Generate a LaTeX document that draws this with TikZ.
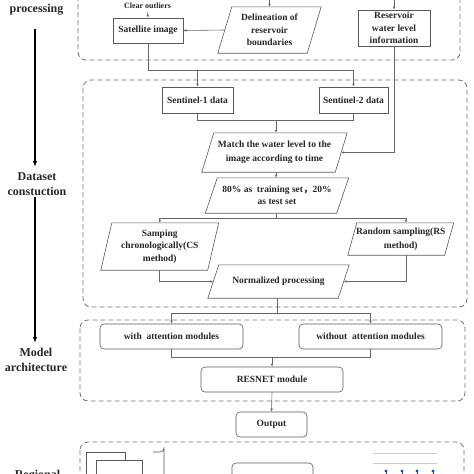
\documentclass[tikz,border=0pt]{standalone}
\usepackage{fontspec}
\setmainfont{Liberation Serif}
\newfontfamily\cjk{Noto Sans CJK SC}
\usetikzlibrary{arrows.meta,calc}
\definecolor{pinblue}{RGB}{40,70,160}
\newcommand\drawpara[2]{\draw[paraedge] ([xshift=#2pt]#1.north west) -- ([xshift=#2pt]#1.north east) -- ([xshift=-#2pt]#1.south east) -- ([xshift=-#2pt]#1.south west) -- cycle;}
\begin{document}
\begin{tikzpicture}[x=1pt,y=-1pt,
  txt/.style={font=\fontsize{9.5}{12.5}\selectfont\bfseries, text=black!85, align=center},
  box/.style={txt, draw=black!65, line width=0.6pt, inner sep=0pt},
  rbox/.style={box, rounded corners=4pt},
  para/.style={txt, inner sep=0pt},
  paraedge/.style={draw=black!65, line width=0.6pt},
  region/.style={draw=black!55, line width=0.8pt, dash pattern=on 5pt off 3pt, rounded corners=8pt},
  conn/.style={draw=black!60, line width=0.6pt},
  arr/.style={conn, -{Latex[length=3pt,width=2.6pt]}},
  side/.style={font=\fontsize{12}{14.5}\selectfont\bfseries, text=black!85, align=center},
  bigarr/.style={line width=1.3pt, draw=black, -{Latex[length=6pt,width=4.5pt]}},
  thin/.style={draw=black!65, line width=0.6pt}
]
\useasboundingbox (0,0) rectangle (474,474);
\clip (0,0) rectangle (474,474);

% regions
\draw[region] (78,-20) rectangle (460,60);
\draw[region] (83,80) rectangle (467,307);
\draw[region] (80,320) rectangle (465,401);
\draw[region] (80,442) rectangle (464,520);

% side labels
\node[side, anchor=base] (lproc) at (36.5,12) {processing};
\node[side] (ldat) at (37,184) {Dataset\\constuction};
\node[side] (lmod) at (36,360) {Model\\architecture};
\node[side, anchor=base] (lreg) at (37.5,478.5) {Regional};
\coordinate (a1s) at (35,29);
\coordinate (a1e) at (35,167);
\coordinate (a2s) at (35,197);
\coordinate (a2e) at (35,343);
\draw[bigarr] (a1s) -- (a1e);
\draw[bigarr] (a2s) -- (a2e);

% nodes
\node[txt, font=\fontsize{8}{9}\selectfont\bfseries] (clr) at (147.5,6) {Clear outliers};
\node[box, minimum width=70pt, minimum height=25pt] (sat) at (148,30.5) {Satellite image};
\node[para, minimum width=89pt, minimum height=46pt] (del) at (269.5,30) {Delineation of\\reservoir\\boundaries};
\node[box, minimum width=72pt, minimum height=36pt] (res) at (394,28) {Reservoir\\water level\\information};
\node[box, minimum width=71pt, minimum height=26pt] (s1) at (197.5,100) {Sentinel-1 data};
\node[box, minimum width=69pt, minimum height=26pt] (s2) at (353.5,100) {Sentinel-2 data};
\node[para, font=\fontsize{9.5}{14}\selectfont\bfseries, minimum width=133pt, minimum height=39pt] (match) at (274.5,152.5) {Match the water level to the\\image according to time};
\node[para, font=\fontsize{9.5}{12}\selectfont\bfseries, minimum width=131pt, minimum height=35pt] (p80) at (277,195.5) {80\% as\ \ training set{\cjk ，}20\%\\as test set};
\node[para, minimum width=106.5pt, minimum height=47pt] (samp) at (159.75,246.5) {Samping\\chronologically(CS\\method)};
\node[para, font=\fontsize{9.5}{14}\selectfont\bfseries, minimum width=96.5pt, minimum height=32pt] (rand) at (400.75,239) {Random sampling(RS\\method)};
\node[para, minimum width=130pt, minimum height=33pt] (norm) at (278.5,281.5) {Normalized processing};
\node[rbox, minimum width=143pt, minimum height=25pt] (wa) at (171.5,336.5) {with\ \ attention modules};
\node[rbox, minimum width=143pt, minimum height=25pt] (woa) at (370.5,336.5) {without\ \ attention modules};
\node[rbox, minimum width=142pt, minimum height=25pt] (resn) at (272,379.5) {RESNET module};
\node[rbox, minimum width=71pt, minimum height=25pt] (out) at (271.5,424.5) {Output};

\drawpara{del}{7}
\drawpara{match}{6}
\drawpara{p80}{6}
\drawpara{samp}{5.5}
\drawpara{rand}{4.5}
\drawpara{norm}{5.5}

% connector helper coordinates
\coordinate (tdel) at (269.5,-5);
\coordinate (tres) at (394,-5);
\coordinate (r1) at (0,70);
\coordinate (r2) at (0,120);
\coordinate (r3) at (0,218);
\coordinate (r4) at (0,281.5);
\coordinate (r5) at (0,313);
\coordinate (r6) at (0,357);
\coordinate (cx) at (276,0);
\coordinate (rx) at (406,0);

% connectors
\draw[arr] (clr.south) -- (sat.north);
\draw[arr] (tdel) -- (del.north);
\draw[arr] (tres) -- (res.north);
\draw[arr] (del.west) -- (sat.east);
\draw[arr] (sat.south) |- (s2.north |- r1) -- (s2.north);
\draw[arr] (s1.north |- r1) -- (s1.north);
\draw[conn] (s1.south) |- (s2.south |- r2) -- (s2.south);
\draw[arr] (match.north -| cx) ++(0,-13) -- (match.north -| cx);
\draw[arr] (res.south) |- (match.east);
\draw[arr] (match.south -| cx) -- (p80.north -| cx);
\draw[arr] (p80.south -| cx) -- (cx |- r3) -| (samp.north);
\draw[arr] (cx |- r3) -| (rand.north -| rx);
\draw[arr] (samp.south) |- (norm.west);
\draw[arr] (rand.south -| rx) |- (norm.east);
\draw[arr] (norm.south -| 277,0) |- (wa.north |- r5) -- (wa.north);
\draw[arr] (277,313) -| (woa.north);
\draw[conn] (wa.south) |- (woa.south |- r6) -- (woa.south);
\draw[arr] (resn.north |- r6) -- (resn.north);
\draw[arr] (resn.south) -- (out.north);

% partial bottom region content
\draw[thin] (86,480) -- (86,452) -- (125,452) -- (125,460);
\draw[thin] (96,490) -- (96,460) -- (142,460) -- (142,490);
\draw[thin] (153,452) -- (160,452) arc[start angle=90, end angle=0, radius=4] -- (164,490);
\draw[thin, rounded corners=4pt] (232,490) -- (232,463) -- (313,463) -- (313,490);
\draw[draw=black!20, line width=0.6pt] (373,453) -- (437,453);
\draw[draw=black!20, line width=0.6pt] (373,463) -- (437,463);
\foreach \px in {386,402,417,433} {
  \draw[pinblue, line width=0.8pt] (\px,471) -- (\px,478);
  \fill[pinblue] (\px,471) circle[radius=1.7];
}
\end{tikzpicture}
\end{document}
